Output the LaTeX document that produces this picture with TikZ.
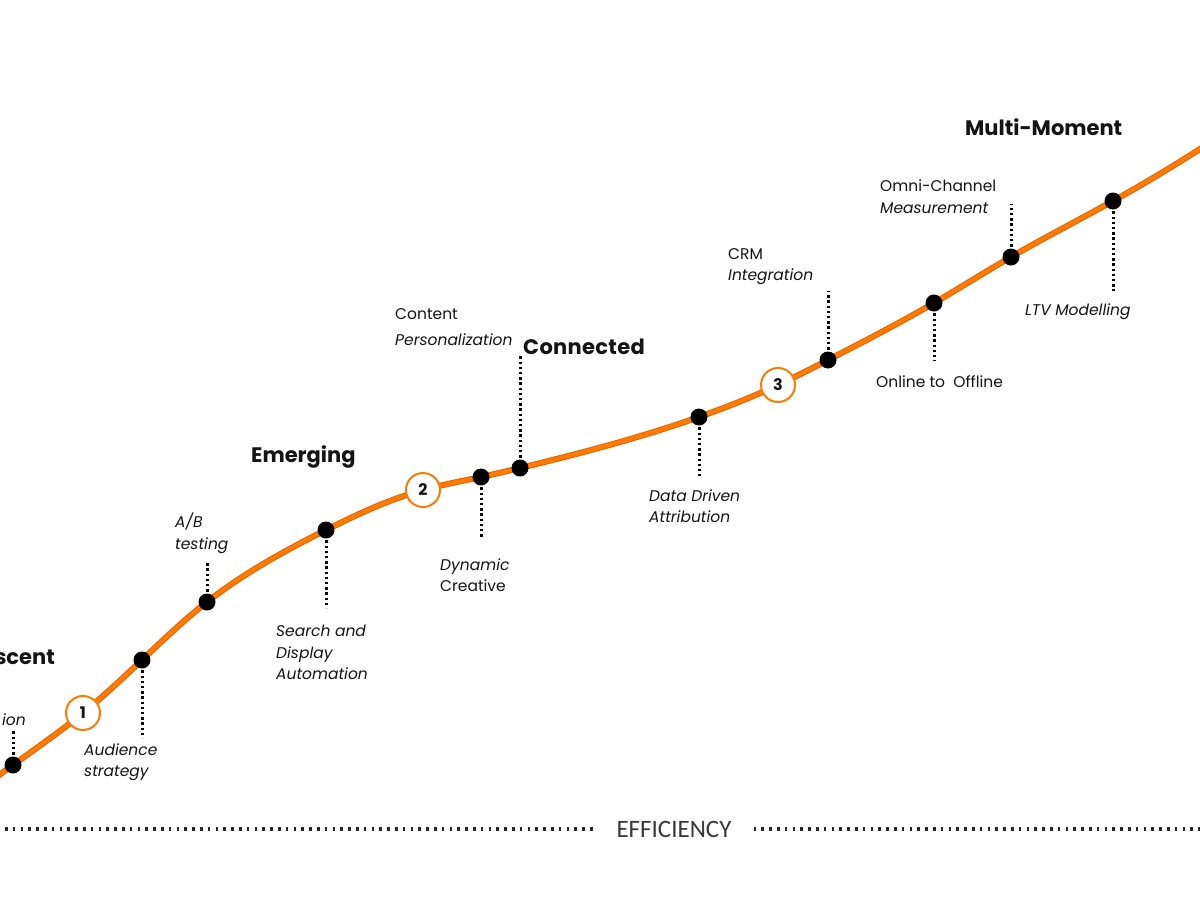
\documentclass[tikz,border=0pt]{standalone}
\usepackage{fontspec}
\usetikzlibrary{hobby}
\setmainfont{Poppins}
\newfontfamily\effont{Carlito}
\definecolor{orC}{RGB}{255,122,0}
\definecolor{orD}{RGB}{232,98,0}
\definecolor{txt}{RGB}{20,20,20}
\begin{document}
\begin{tikzpicture}[x=1pt,y=-1pt,
  curve/.style={draw=orD, line width=1pt, double=orC, double distance=4pt, use Hobby shortcut},
  dotnode/.style={circle, fill=black, minimum size=17pt, inner sep=0pt},
  numnode/.style={circle, draw=orC, line width=2pt, fill=white, minimum size=34pt, inner sep=0pt, font=\bfseries\fontsize{16}{16}\selectfont, text=txt},
  conn/.style={line width=3pt, dash pattern=on 2.4pt off 2.8pt},
  axisline/.style={line width=4.5pt, dash pattern=on 2.6pt off 5.2pt, draw=black!85},
  lab/.style={font=\fontsize{15.5}{21.5}\selectfont, align=left, anchor=north west, inner sep=0pt, text=txt},
  ttl/.style={font=\bfseries\fontsize{21}{21}\selectfont, inner sep=0pt, text=txt}
]
\useasboundingbox (0,0) rectangle (1200,900);
\clip (0,0) rectangle (1200,900);
\fill[white] (0,0) rectangle (1200,900);

% positions on the curve
\coordinate (s0) at (-25,793);
\coordinate (p1) at (13,765);
\coordinate (q1) at (83,713);
\coordinate (p2) at (142,660);
\coordinate (p3) at (207,602);
\coordinate (p4) at (326,530);
\coordinate (q2) at (423,490);
\coordinate (p5) at (481,477);
\coordinate (p6) at (520,468);
\coordinate (p7) at (699,417);
\coordinate (q3) at (778,385);
\coordinate (p8) at (828,360);
\coordinate (p9) at (934,303);
\coordinate (p10) at (1011,257);
\coordinate (p11) at (1113,201);
\coordinate (s1) at (1235,126);

% the curve
\draw[curve] (s0) .. (p1) .. (q1) .. (p2) .. (p3) .. (p4) .. (q2) .. (p5) .. (p6) .. (p7) .. (q3) .. (p8) .. (p9) .. (p10) .. (p11) .. (s1);

% connector ends
\coordinate (e1) at (13,731);
\coordinate (e2) at (142,738);
\coordinate (e3) at (207,562);
\coordinate (e4) at (326,608);
\coordinate (e5) at (481,538);
\coordinate (e6) at (520,355);
\coordinate (e7) at (699,476);
\coordinate (e8) at (828,291);
\coordinate (e9) at (934,361);
\coordinate (e10) at (1011,204);
\coordinate (e11) at (1113,291);

\foreach \i in {1,...,11} {\draw[conn] (p\i) -- (e\i);}

% dots
\foreach \i in {1,...,11} {\node[dotnode] (d\i) at (p\i) {};}

% numbered circles
\node[numnode] (n1) at (q1) {1};
\node[numnode] (n2) at (q2) {2};
\node[numnode] (n3) at (q3) {3};

% stage titles
\node[ttl, anchor=east] (tNas) at (55,657) {Nascent};
\node[ttl, anchor=west] (tEme) at (251,457) {Emerging};
\node[ttl, anchor=west, font=\bfseries\fontsize{21}{21}\selectfont\addfontfeatures{LetterSpace=1.5}] (tCon) at (523,347) {Connected};
\node[ttl, anchor=west] (tMul) at (965,127) {Multi-Moment};

% labels
\node[lab, anchor=north east] (l1) at (26,713) {\itshape ion};
\node[lab] (l2) at (84,743) {\itshape Audience\\\itshape strategy};
\node[lab] (l3) at (175,513) {\itshape A/B\\\itshape testing};
\node[lab] (l4) at (276,625) {\itshape Search and\\\itshape Display\\\itshape Automation};
\node[lab] (l5) at (440,558) {\itshape Dynamic\\Creative};
\node[lab] (l6) at (395,308) {Content\\[4.5pt]\itshape Personalization};
\node[lab] (l7) at (649,489) {\itshape Data Driven\\\itshape Attribution};
\node[lab] (l8) at (728,248) {CRM\\\itshape Integration};
\node[lab] (l9) at (876,375) {Online to\ \ Offline};
\node[lab] (l10) at (880,180) {Omni-Channel\\\itshape Measurement};
\node[lab] (l11) at (1025,303) {\itshape LTV Modelling};

% efficiency axis
\node[font=\effont\fontsize{25}{25}\selectfont, text=black!78, inner xsep=22pt, inner ysep=0pt] (eff) at (674,829) {EFFICIENCY};
\coordinate (a0) at (5,829);
\coordinate (a1) at (1205,829);
\draw[axisline] (a0) -- (eff.west);
\draw[axisline] (eff.east) -- (a1);
\end{tikzpicture}
\end{document}
